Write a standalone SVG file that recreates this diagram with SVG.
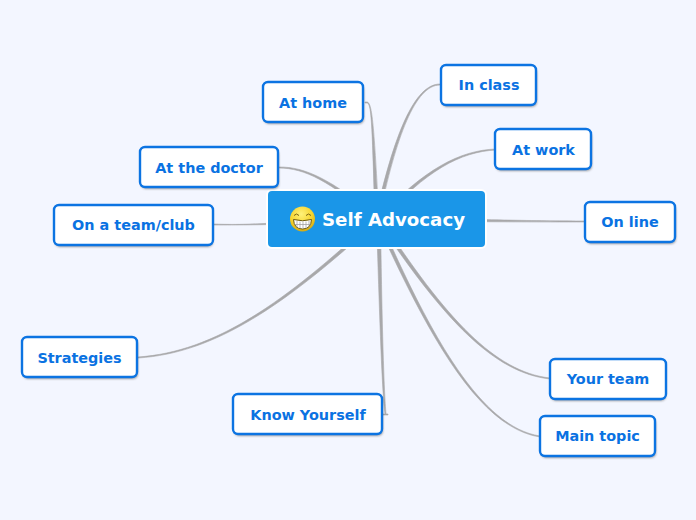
<svg xmlns="http://www.w3.org/2000/svg" width="696" height="520" viewBox="0 0 696 520">
<style>
.n{fill:#fff;stroke:#0c74e2;stroke-width:2.400}
.t{font-family:"DejaVu Sans",Verdana,sans-serif;font-weight:700;font-size:14.400px;fill:#0a72e2;text-anchor:middle}
.c{fill:#a8a8aa;stroke:#a8a8aa;stroke-width:.6}
.s{fill:#555;opacity:.55;filter:url(#b)}
</style>
<defs>
<filter id="b" x="-10%" y="-20%" width="120%" height="140%"><feGaussianBlur stdDeviation="1"/></filter>
<radialGradient id="y" cx=".45" cy=".3" r=".75"><stop offset="0" stop-color="#fff27a"/><stop offset=".6" stop-color="#f6d32c"/><stop offset="1" stop-color="#c9a010"/></radialGradient>
</defs>
<rect width="696" height="520" fill="#f3f6ff"/>
<g id="connectors">
<path class="c" d="M365,102H367C372.300,102.500 374,125 379,219L375,219C372,125 371.700,103.500 367,103H365Z"/>
<path class="c" d="M440,84C414.500,84 393.800,134.700 375.200,218.600L378.800,219.400C396.200,135.300 415.500,85 440,85Z"/>
<path class="c" d="M496,149C459.800,150.300 424.100,169.200 378.700,217.800L381.300,220.200C425.900,170.800 460.200,151.700 496,150Z"/>
<path class="c" d="M279,167C305.200,166.800 330.700,179.150 378.150,217.600L375.850,220.400C329.300,180.850 304.800,168.200 279,168Z"/>
<path class="c" d="M214,224C240,225 250,224 300,222L377,217L377,221L300,224C250,225 240,225 214,225Z"/>
<path class="c" d="M585,221C540,221 500,220 377,217L377,221C500,222 540,222 585,222Z"/>
<path class="c" d="M138,357C214.800,351.800 284.200,303.200 375.800,217.800L378.200,220.200C285.800,304.800 215.200,353.200 138,358Z"/>
<path class="c" d="M388,414H386C384,390 382,330 380.500,219L376.500,219C380,330 382,390 385,414H383V415H388Z"/>
<path class="c" d="M550,378C495.350,371.900 446,319.300 379.500,217L376.500,219C444,320.700 494.650,373.100 550,379Z"/>
<path class="c" d="M540,436C481.500,427 432,339.500 378.600,217.300L375.400,218.700C430,340.500 480.500,428 540,437Z"/>
</g>
<g id="center">
<rect x="266" y="189" width="221" height="60" rx="6" fill="#fff"/>
<rect x="268" y="191" width="217" height="56" rx="4" fill="#1a96e8"/>
<g id="emoji">
<circle cx="302.500" cy="219" r="12.500" fill="url(#y)"/>
<path d="M294,215.500q2.500,-3 5,0M306,215.500q2.500,-3 5,0" fill="none" stroke="#7a6410" stroke-width="1"/>
<path d="M293.500,219.500Q302.500,222 311.500,219.500Q311,229 302.500,229Q294,229 293.500,219.500Z" fill="#fff" stroke="#6b5a10" stroke-width="1"/>
<path d="M297,221v6.500M300,221.500v7M303,221.500v7M306,221.500v7M309,221v5.500M294.500,224.500h16" stroke="#999" stroke-width=".7" fill="none"/>
</g>
<text x="393.500" y="226" font-family="'DejaVu Sans',Verdana,sans-serif" font-weight="700" font-size="18.200px" fill="#fff" text-anchor="middle">Self Advocacy</text>
</g>
<g id="at-home"><rect class="s" x="264" y="85" width="100" height="39" rx="5"/><rect class="n" x="263" y="82" width="100" height="40" rx="5"/><text class="t" x="313" y="108">At home</text></g>
<g id="in-class"><rect class="s" x="442" y="68" width="95" height="39" rx="5"/><rect class="n" x="441" y="65" width="95" height="40" rx="5"/><text class="t" x="489" y="90">In class</text></g>
<g id="at-work"><rect class="s" x="496" y="132" width="96" height="39" rx="5"/><rect class="n" x="495" y="129" width="96" height="40" rx="5"/><text class="t" x="543.500" y="155">At work</text></g>
<g id="at-the-doctor"><rect class="s" x="141" y="150" width="138" height="39" rx="5"/><rect class="n" x="140" y="147" width="138" height="40" rx="5"/><text class="t" x="209" y="173">At the doctor</text></g>
<g id="on-a-team"><rect class="s" x="55" y="208" width="158" height="39" rx="5"/><rect class="n" x="54" y="205" width="159" height="40" rx="5"/><text class="t" x="133.500" y="230">On a team/club</text></g>
<g id="on-line"><rect class="s" x="586" y="205" width="90" height="39" rx="5"/><rect class="n" x="585" y="202" width="90" height="40" rx="5"/><text class="t" x="630" y="227">On line</text></g>
<g id="strategies"><rect class="s" x="23" y="340" width="115" height="39" rx="5"/><rect class="n" x="22" y="337" width="115" height="40" rx="5"/><text class="t" x="79.500" y="363">Strategies</text></g>
<g id="know-yourself"><rect class="s" x="234" y="397" width="149" height="39" rx="5"/><rect class="n" x="233" y="394" width="149" height="40" rx="5"/><text class="t" x="308" y="420">Know Yourself</text></g>
<g id="your-team"><rect class="s" x="551" y="362" width="115" height="39" rx="5"/><rect class="n" x="550" y="359" width="116" height="40" rx="5"/><text class="t" x="608" y="384">Your team</text></g>
<g id="main-topic"><rect class="s" x="541" y="419" width="115" height="39" rx="5"/><rect class="n" x="540" y="416" width="115" height="40" rx="5"/><text class="t" x="597.500" y="441">Main topic</text></g>
</svg>
